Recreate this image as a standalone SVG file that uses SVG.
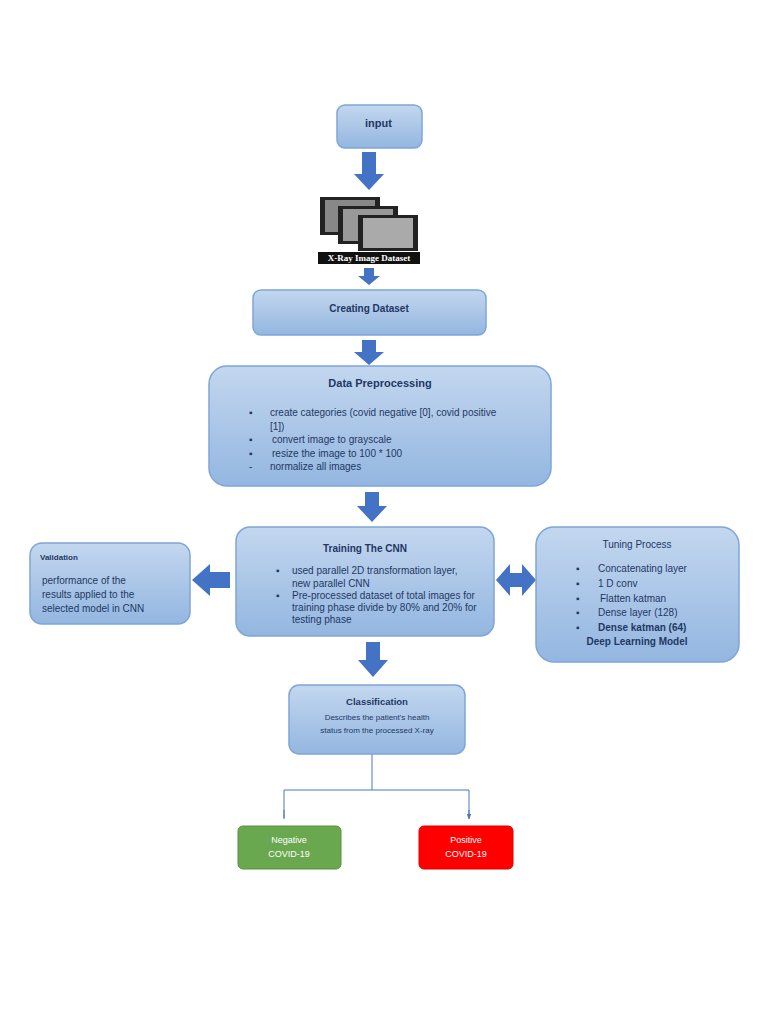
<svg xmlns="http://www.w3.org/2000/svg" width="768" height="1024" viewBox="0 0 768 1024">
<defs>
<linearGradient id="g" x1="0" y1="0" x2="0" y2="1"><stop offset="0" stop-color="#c3d7ef"/><stop offset="1" stop-color="#93b6e0"/></linearGradient>
<marker id="m" viewBox="0 0 10 10" refX="9" refY="5" markerWidth="6" markerHeight="6" orient="auto"><path d="M0,1 L10,5 L0,9 z" fill="#4a77c0"/></marker>
<style>
.b{fill:url(#g);stroke:#7fa5d6;stroke-width:1.5}
.t{font-family:"Liberation Sans",Arial,sans-serif;fill:#1f3864;font-size:10px}
.h{font-weight:bold;font-size:11px}
.a{fill:#4472c4}
.w{font-family:"Liberation Sans",Arial,sans-serif;fill:#fff;font-size:9px;text-anchor:middle}
</style>
</defs>
<rect width="768" height="1024" fill="#fff"/>
<g id="connectors">
<path class="a" d="M362,152h14v22h8l-15,16l-15,-16h8z"/>
<path class="a" d="M364,268h10v8h6l-11,9l-11,-9h6z"/>
<path class="a" d="M362,340h14v12h8l-15,13l-15,-13h8z"/>
<path class="a" d="M365,492h14v14h8l-15,16l-15,-16h8z"/>
<path class="a" d="M230,572v16h-20v8l-18,-16l18,-16v8z"/>
<path class="a" d="M496,580l14,-16v9h12v-9l14,16l-14,16v-9h-12v9z"/>
<path class="a" d="M366,642h14v18h8l-15,17l-15,-17h8z"/>
<path d="M372,754V790M284,790H469M284,790V818M469,790V818" stroke="#4a77c0" stroke-width="1" fill="none"/>
<path d="M284,810V819M469,810V819" stroke="#4a77c0" stroke-width="1" marker-end="url(#m)"/>
</g>
<g id="input"><rect class="b" x="337" y="105" width="85" height="43" rx="8"/><text class="t h" x="365" y="127">input</text></g>
<g id="xray">
<rect x="320" y="197" width="60" height="38" fill="#222"/><rect x="325" y="200" width="50" height="32" fill="#888"/>
<rect x="338" y="206" width="60" height="38" fill="#222"/><rect x="343" y="209" width="50" height="32" fill="#999"/>
<rect x="358" y="215" width="60" height="36" fill="#222"/><rect x="363" y="218" width="50" height="30" fill="#aaa"/>
<rect x="318" y="252" width="102" height="12" fill="#111"/>
<text class="w" x="369" y="261" font-family="Liberation Serif,serif" style="font-family:'Liberation Serif',serif;font-weight:bold">X-Ray Image Dataset</text>
</g>
<g id="creating"><rect class="b" x="253" y="290" width="233" height="45" rx="8"/><text class="t" x="369" y="312" text-anchor="middle" font-weight="bold" font-size="9">Creating Dataset</text></g>
<g id="prep"><rect class="b" x="209" y="366" width="342" height="120" rx="18"/>
<text class="t h" x="380" y="387" text-anchor="middle">Data Preprocessing</text>
<g class="t" font-size="9.5">
<text x="249" y="416">▪</text><text x="270" y="416">create categories (covid negative [0], covid positive</text>
<text x="270" y="430">[1])</text>
<text x="249" y="443">▪</text><text x="272" y="443">convert image to grayscale</text>
<text x="249" y="457">▪</text><text x="272" y="457">resize the image to 100 * 100</text>
<text x="249" y="470">-</text><text x="270" y="470">normalize all images</text>
</g></g>
<g id="validation"><rect class="b" x="30" y="543" width="160" height="81" rx="12"/>
<g class="t" font-size="9"><text x="40" y="560" font-weight="bold" font-size="8">Validation</text>
<text x="42" y="584">performance of the</text><text x="42" y="598">results applied to the</text><text x="42" y="612">selected model in CNN</text></g></g>
<g id="training"><rect class="b" x="236" y="527" width="258" height="109" rx="14"/>
<text class="t" x="365" y="552" text-anchor="middle" font-size="12" font-weight="bold">Training  The CNN</text>
<g class="t" font-size="8.5">
<text x="276" y="574">▪</text><text x="292" y="574">used parallel 2D transformation layer,</text>
<text x="292" y="587">new  parallel CNN</text>
<text x="276" y="599">▪</text><text x="292" y="599">Pre-processed dataset of total images for</text>
<text x="292" y="611">training phase divide by 80% and 20% for</text>
<text x="292" y="623">testing phase</text></g></g>
<g id="tuning"><rect class="b" x="536" y="527" width="203" height="135" rx="18"/>
<g class="t" font-size="9.5"><text x="637" y="548" text-anchor="middle">Tuning Process</text>
<text x="576" y="572">▪</text><text x="598" y="572">Concatenating layer</text>
<text x="576" y="587">▪</text><text x="598" y="587">1 D conv</text>
<text x="576" y="602">▪</text><text x="600" y="602">Flatten  katman</text>
<text x="576" y="616">▪</text><text x="598" y="616">Dense layer (128)</text>
<text x="576" y="631">▪</text><text x="598" y="631" font-weight="bold">Dense katman (64)</text>
<text x="637" y="645" text-anchor="middle" font-weight="bold">Deep Learning Model</text></g></g>
<g id="classification"><rect class="b" x="289" y="685" width="176" height="69" rx="10"/>
<g class="t" text-anchor="middle"><text x="377" y="705" font-size="9.5" font-weight="bold">Classification</text>
<text x="377" y="720" font-size="8">Describes the patient's health</text><text x="377" y="733" font-size="8">status from the processed X-ray</text></g></g>
<g id="negative"><rect x="238" y="826" width="103" height="43" rx="5" fill="#6aa84f" stroke="#5a8f42"/>
<text class="w" x="289" y="843">Negative</text><text class="w" x="289" y="857">COVID-19</text></g>
<g id="positive"><rect x="419" y="826" width="94" height="43" rx="5" fill="#ff0000" stroke="#d00"/>
<text class="w" x="466" y="843">Positive</text><text class="w" x="466" y="857">COVID-19</text></g>
</svg>
